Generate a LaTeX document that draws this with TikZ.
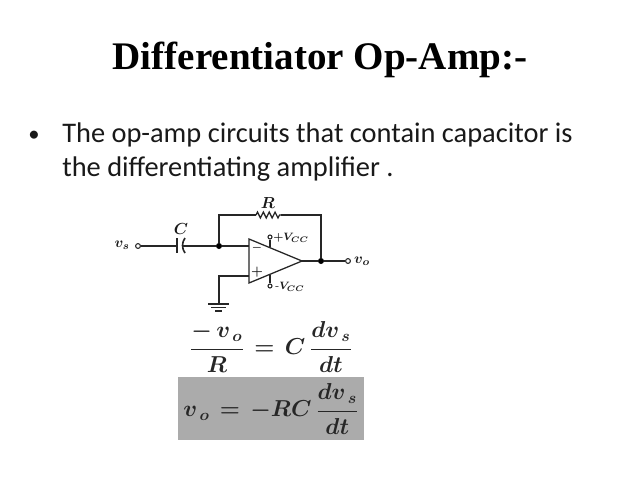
\documentclass[tikz,border=0pt]{standalone}
\usepackage{fontspec}
\usepackage{amsmath}
\usetikzlibrary{positioning,calc}
\usetikzlibrary{decorations.pathmorphing}
\newfontfamily\titlefont{Liberation Serif}
\newfontfamily\bodyfont{Carlito}
\tikzset{
  wire/.style={line width=0.95pt, draw=black!85},
  term/.style={circle, inner sep=0pt, minimum size=3.6pt, draw=black!85, line width=0.8pt, fill=white},
  dot/.style={circle, inner sep=0pt, minimum size=4.5pt, fill=black},
  lbl/.style={inner sep=0pt, text=black!90},
  bodyline/.style={inner sep=0pt, anchor=base west, font=\bodyfont\fontsize{21.3}{24}\selectfont, text=black!90},
  eq/.style={inner sep=0pt, text=black!85, font=\fontsize{17.5}{20}\selectfont}
}
\begin{document}
\boldmath
\begin{tikzpicture}[x=0.75pt,y=-0.75pt]
	\useasboundingbox (0,0) rectangle (638,479);
	\fill[white] (0,0) rectangle (638,479);
	\node[inner sep=0pt, font=\titlefont\bfseries\fontsize{29.3}{32}\selectfont] (title) at (320,60) {Differentiator Op-Amp:-};
	\node[bodyline, font=\bodyfont\fontsize{17}{20}\selectfont] (bullet) at (28,141) {•};
	\node[bodyline] (lineone) at (62,142) {The op-amp circuits that contain capacitor is};
	\node[bodyline] (linetwo) at (62,176) {the differentiating amplifier .};
	%
	\coordinate (oa1) at (249,239);
	\coordinate (oa2) at (249,283);
	\coordinate (oa3) at (302,261);
	\draw[wire] (oa1) -- (oa2) -- (oa3) -- cycle;
	\coordinate (inm) at (249,246);
	\coordinate (inp) at (249,276);
	\node[lbl, font=\fontsize{8}{8}\selectfont] (minus) at (257,248) {$-$};
	\node[lbl, font=\fontsize{10}{10}\selectfont] (plus) at (257,272) {$+$};
	%
	\node[term] (vsterm) at (138,246) {};
	\node[lbl, font=\fontsize{11}{11}\selectfont] (vs) at (122,245) {$v_s$};
	\coordinate (capl) at (177,246);
	\coordinate (capr) at (182,246);
	\draw[wire, line width=1.2pt] (177,238) -- (177,253);
	\draw[wire, line width=1.2pt] (185,238) to[bend right=35] (185,253);
	\node[lbl, font=\fontsize{13}{13}\selectfont] (clabel) at (181,229) {$C$};
	\node[dot] (jin) at (219,246) {};
	\node[dot] (jout) at (321,261) {};
	\node[term] (voterm) at (348,261) {};
	\node[lbl, font=\fontsize{11}{11}\selectfont] (vo) at (362,261) {$v_o$};
	\coordinate (ftl) at (219,215);
	\coordinate (ftr) at (321,215);
	\coordinate (rl) at (256,215);
	\coordinate (rr) at (281,215);
	\node[lbl, font=\fontsize{11.5}{11.5}\selectfont] (rlabel) at (268,203) {$R$};
	%
	\draw[wire] (vsterm) -- (capl);
	\draw[wire] (capr) -- (jin);
	\draw[wire] (jin) -- (inm);
	\draw[wire] (jin) -- (ftl) -- (rl);
	\draw[wire, decorate, decoration={zigzag, amplitude=2.2pt, segment length=4.4pt}] (rl) -- (rr);
	\draw[wire] (rr) -- (ftr) -- (jout);
	\draw[wire] (oa3) -- (jout);
	\draw[wire] (jout) -- (voterm);
	%
	\coordinate (gnd) at (219,304);
	\draw[wire] (inp) -- (219,276) -- (gnd);
	\draw[wire] (208,304) -- (229,304);
	\draw[wire] (211,307.5) -- (226,307.5);
	\draw[wire] (215,311) -- (222,311);
	%
	\node[term, minimum size=3pt] (vccp) at (270,237) {};
	\node[term, minimum size=3pt] (vccm) at (270,286) {};
	\coordinate (vccpin) at (270,247);
	\coordinate (vccmin) at (270,275);
	\draw[wire] (vccp) -- (vccpin);
	\draw[wire] (vccm) -- (vccmin);
	\node[lbl, font=\fontsize{8.2}{9}\selectfont] (vccplabel) at (291,238) {$+V_{CC}$};
	\node[lbl, font=\fontsize{8.2}{9}\selectfont] (vccmlabel) at (290,287) {$\text{-}V_{CC}$};
	%
	\node[eq] (eqone) at (271,347) {$\dfrac{-\,v_{\,o}}{\;R\;}\mkern2mu=\mkern2mu C\,\dfrac{dv_{\,s}}{\;dt\;}$};
	\node[fill=black!33, minimum width=139.5pt, minimum height=47pt, inner sep=0pt] (eqbox) at (271,408.5) {};
	\node[eq] (eqtwo) at (271,409) {$v_{\,o}\mkern2mu=\mkern2mu-RC\,\dfrac{dv_{\,s}}{\;dt\;}$};
\end{tikzpicture}
\end{document}
